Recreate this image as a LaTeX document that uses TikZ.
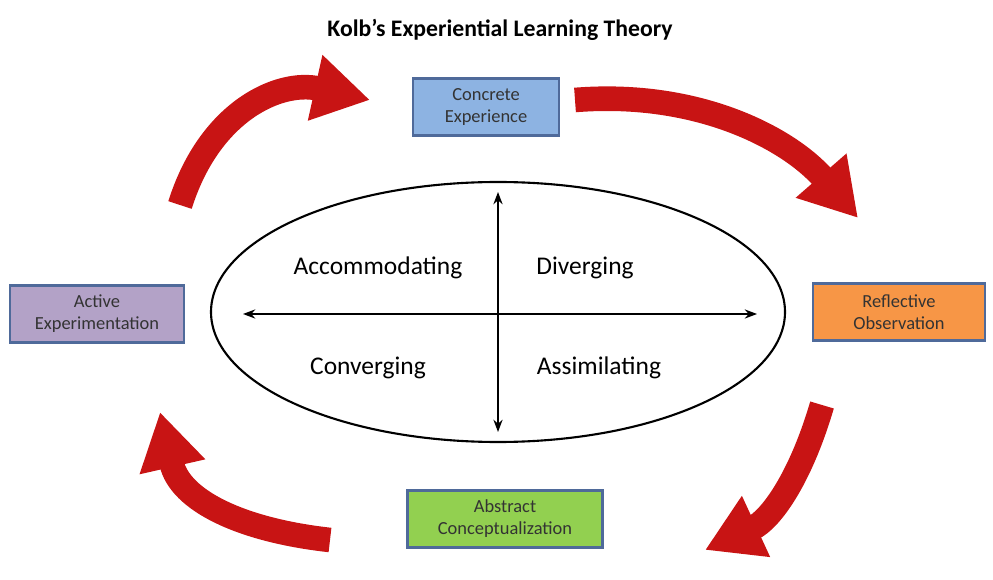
\documentclass[tikz,border=0pt]{standalone}
\usepackage{fontspec}
\setmainfont{Carlito}
\usetikzlibrary{arrows.meta}
\definecolor{cblue}{HTML}{8DB3E2}
\definecolor{corange}{HTML}{F79646}
\definecolor{cgreen}{HTML}{92D050}
\definecolor{cpurple}{HTML}{B3A2C7}
\definecolor{cred}{HTML}{C81414}
\definecolor{cborder}{HTML}{4F6A9A}
\begin{document}
\begin{tikzpicture}[x=0.02cm,y=-0.02cm,
  stagebox/.style={draw=cborder,line width=1.2pt,minimum width=#1*0.02cm,minimum height=57*0.02cm,align=center,font=\fontsize{10.5}{12.5}\selectfont,text=black!80},
  quad/.style={font=\fontsize{14.5}{16}\selectfont},
  bigarrow/.style={line width=14pt,-{Triangle[length=32pt,width=36pt]},color=cred},
  axis/.style={line width=0.8pt,{Stealth[length=7pt]}-{Stealth[length=7pt]}}]
\useasboundingbox (0,0) rectangle (993,580);
\node[font=\bfseries\fontsize{13.5}{15}\selectfont] (title) at (500,30) {Kolb’s Experiential Learning Theory};
\node[stagebox=146,fill=cblue] (ce) at (486,107) {Concrete\\Experience};
\node[stagebox=172,fill=corange] (ro) at (899,312) {Reflective\\Observation};
\node[stagebox=195,fill=cgreen] (ac) at (505,519) {Abstract\\Conceptualization};
\node[stagebox=174,fill=cpurple] (ae) at (97,314) {Active\\Experimentation};
\draw[line width=1.2pt] (498,312) ellipse [x radius=287, y radius=130];
\coordinate (l) at (243,314); \coordinate (r) at (757,314);
\coordinate (t) at (498,192); \coordinate (b) at (498,432);
\draw[axis] (l) -- (r);
\draw[axis] (t) -- (b);
\node[quad] (acc) at (378,268) {Accommodating};
\node[quad] (div) at (585,268) {Diverging};
\node[quad] (con) at (368,368) {Converging};
\node[quad] (ass) at (599,368) {Assimilating};
\coordinate (a1s) at (180,205); \coordinate (a1e) at (370,100);
\coordinate (a2s) at (575,100); \coordinate (a2e) at (858,218);
\coordinate (a3s) at (822,405); \coordinate (a3e) at (705,550);
\coordinate (a4s) at (330,540); \coordinate (a4e) at (160,412);
\draw[bigarrow] (a1s) .. controls (210,110) and (280,80) .. (a1e);
\draw[bigarrow] (a2s) .. controls (700,90) and (790,140) .. (a2e);
\draw[bigarrow] (a3s) .. controls (800,480) and (770,520) .. (a3e);
\draw[bigarrow] (a4s) .. controls (240,530) and (180,500) .. (a4e);
\end{tikzpicture}
\end{document}
